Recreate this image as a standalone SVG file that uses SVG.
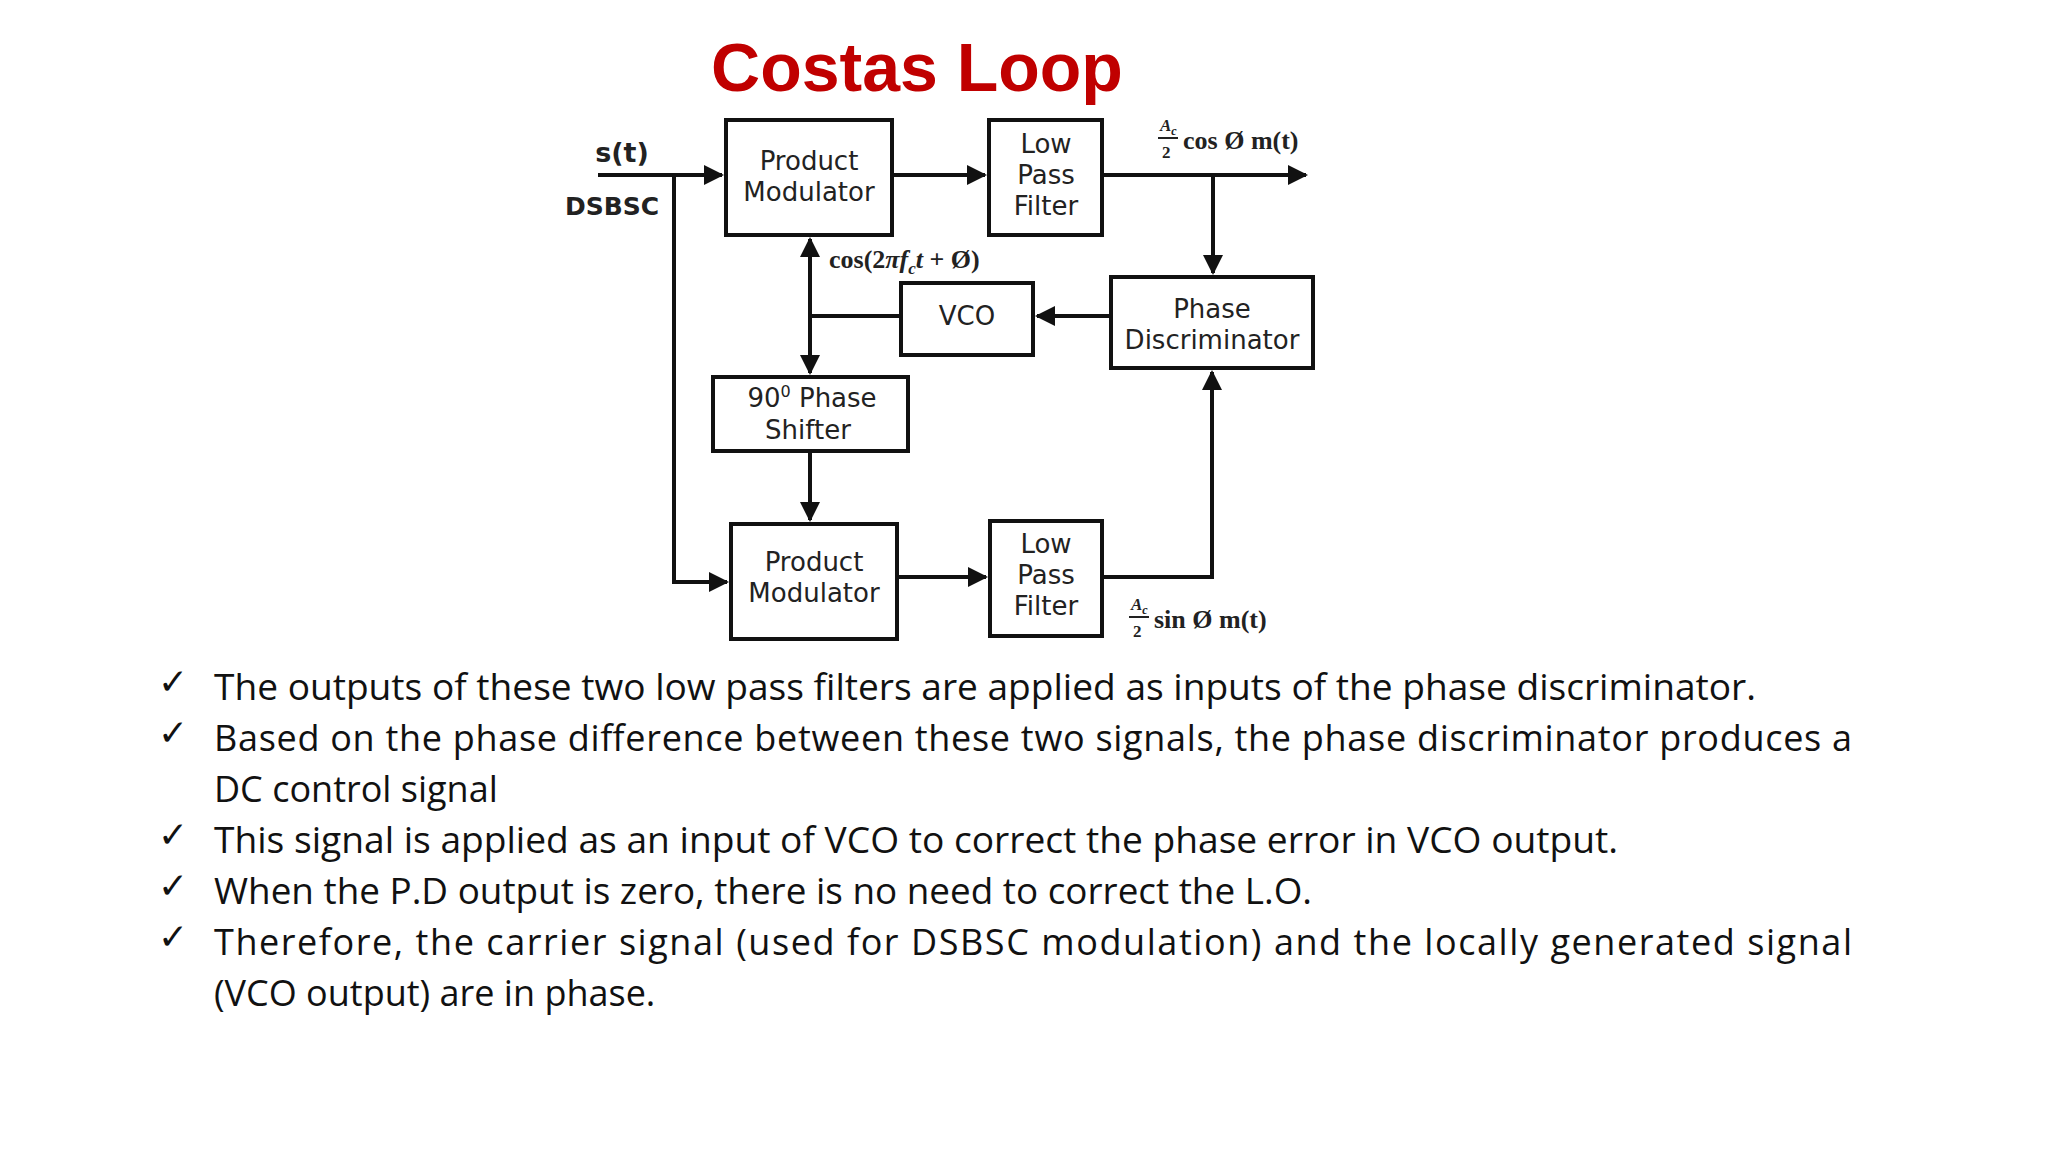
<svg xmlns="http://www.w3.org/2000/svg" width="2048" height="1152" viewBox="0 0 2048 1152">
<defs>
<marker id="ah" viewBox="0 0 10 10" refX="9" refY="5" markerWidth="5" markerHeight="5" orient="auto-start-reverse"><path d="M0,0L10,5L0,10z" fill="#111"/></marker>
<style>
.b{fill:#fff;stroke:#111;stroke-width:4}
.t{font-family:"DejaVu Sans",sans-serif;font-size:26px;fill:#222;text-anchor:middle}
.c{fill:none;stroke:#111;stroke-width:4}
.m{font-family:"Liberation Serif",serif;font-size:26px;font-weight:bold;fill:#222}
.p{font-family:"Open Sans","Liberation Sans",sans-serif;font-size:36px;fill:#111}
</style>
</defs>
<rect width="2048" height="1152" fill="#fff"/>
<text x="917" y="91" text-anchor="middle" font-family="Liberation Sans,sans-serif" font-weight="bold" font-size="68" fill="#c00000">Costas Loop</text>
<g id="connectors">
<path class="c" d="M598,175H722" marker-end="url(#ah)"/>
<path class="c" d="M674,175V582H727" marker-end="url(#ah)"/>
<path class="c" d="M892,175H985" marker-end="url(#ah)"/>
<path class="c" d="M1102,175H1306" marker-end="url(#ah)"/>
<path class="c" d="M1213,175V273" marker-end="url(#ah)"/>
<path class="c" d="M1111,316H1037" marker-end="url(#ah)"/>
<path class="c" d="M901,316H810"/>
<path class="c" d="M810,239V373" marker-start="url(#ah)" marker-end="url(#ah)"/>
<path class="c" d="M810,451V520" marker-end="url(#ah)"/>
<path class="c" d="M897,577H986" marker-end="url(#ah)"/>
<path class="c" d="M1102,577H1212V372" marker-end="url(#ah)"/>
</g>
<g id="pm1"><rect class="b" x="726" y="120" width="166" height="115"/><text class="t" x="809" y="170">Product</text><text class="t" x="809" y="201">Modulator</text></g>
<g id="lpf1"><rect class="b" x="989" y="120" width="113" height="115"/><text class="t" x="1046" y="153">Low</text><text class="t" x="1046" y="184">Pass</text><text class="t" x="1046" y="215">Filter</text></g>
<g id="pd"><rect class="b" x="1111" y="277" width="202" height="91"/><text class="t" x="1212" y="318">Phase</text><text class="t" x="1212" y="349">Discriminator</text></g>
<g id="vco"><rect class="b" x="901" y="283" width="132" height="72"/><text class="t" x="967" y="325">VCO</text></g>
<g id="ps"><rect class="b" x="713" y="377" width="195" height="74"/><text class="t" x="812" y="407">90<tspan font-size="16" dy="-10">0</tspan><tspan dy="10"> Phase</tspan></text><text class="t" x="808" y="439">Shifter</text></g>
<g id="pm2"><rect class="b" x="731" y="524" width="166" height="115"/><text class="t" x="814" y="571">Product</text><text class="t" x="814" y="602">Modulator</text></g>
<g id="lpf2"><rect class="b" x="990" y="521" width="112" height="115"/><text class="t" x="1046" y="553">Low</text><text class="t" x="1046" y="584">Pass</text><text class="t" x="1046" y="615">Filter</text></g>
<text x="622" y="162" text-anchor="middle" font-family="DejaVu Sans,sans-serif" font-weight="bold" font-size="27" fill="#222">s(t)</text>
<text x="612" y="215" text-anchor="middle" font-family="DejaVu Sans,sans-serif" font-weight="bold" font-size="25" fill="#222">DSBSC</text>
<text class="m" x="829" y="268">cos(2<tspan font-style="italic">πf</tspan><tspan font-size="17" dy="6" font-style="italic">c</tspan><tspan dy="-6" font-style="italic">t</tspan> + Ø)</text>
<g class="m"><text x="1160" y="131" font-size="17" font-style="italic">A<tspan font-size="12" dy="4">c</tspan></text><line x1="1158" y1="138" x2="1178" y2="138" stroke="#222" stroke-width="2"/><text x="1162" y="158" font-size="17">2</text><text x="1183" y="149">cos Ø  m(t)</text></g>
<g class="m"><text x="1131" y="610" font-size="17" font-style="italic">A<tspan font-size="12" dy="4">c</tspan></text><line x1="1129" y1="617" x2="1149" y2="617" stroke="#222" stroke-width="2"/><text x="1133" y="637" font-size="17">2</text><text x="1154" y="628">sin Ø  m(t)</text></g>
<g id="bullets" class="p">
<text x="158" y="694" font-family="DejaVu Sans,sans-serif">✓</text>
<text x="158" y="745" font-family="DejaVu Sans,sans-serif">✓</text>
<text x="158" y="847" font-family="DejaVu Sans,sans-serif">✓</text>
<text x="158" y="898" font-family="DejaVu Sans,sans-serif">✓</text>
<text x="158" y="949" font-family="DejaVu Sans,sans-serif">✓</text>
<text x="214" y="700" textLength="1542" lengthAdjust="spacingAndGlyphs">The outputs of these two low pass filters are applied as inputs of the phase discriminator.</text>
<text x="214" y="751" textLength="1638" lengthAdjust="spacing">Based on the phase difference between these two signals, the phase discriminator produces a</text>
<text x="214" y="802">DC control signal</text>
<text x="214" y="853" textLength="1404" lengthAdjust="spacingAndGlyphs">This signal is applied as an input of VCO to correct the phase error in VCO output.</text>
<text x="214" y="904" textLength="1098" lengthAdjust="spacingAndGlyphs">When the P.D output is zero, there is no need to correct the L.O.</text>
<text x="214" y="955" textLength="1638" lengthAdjust="spacing">Therefore, the carrier signal (used for DSBSC modulation) and the locally generated signal</text>
<text x="214" y="1006">(VCO output) are in phase.</text>
</g>
</svg>
